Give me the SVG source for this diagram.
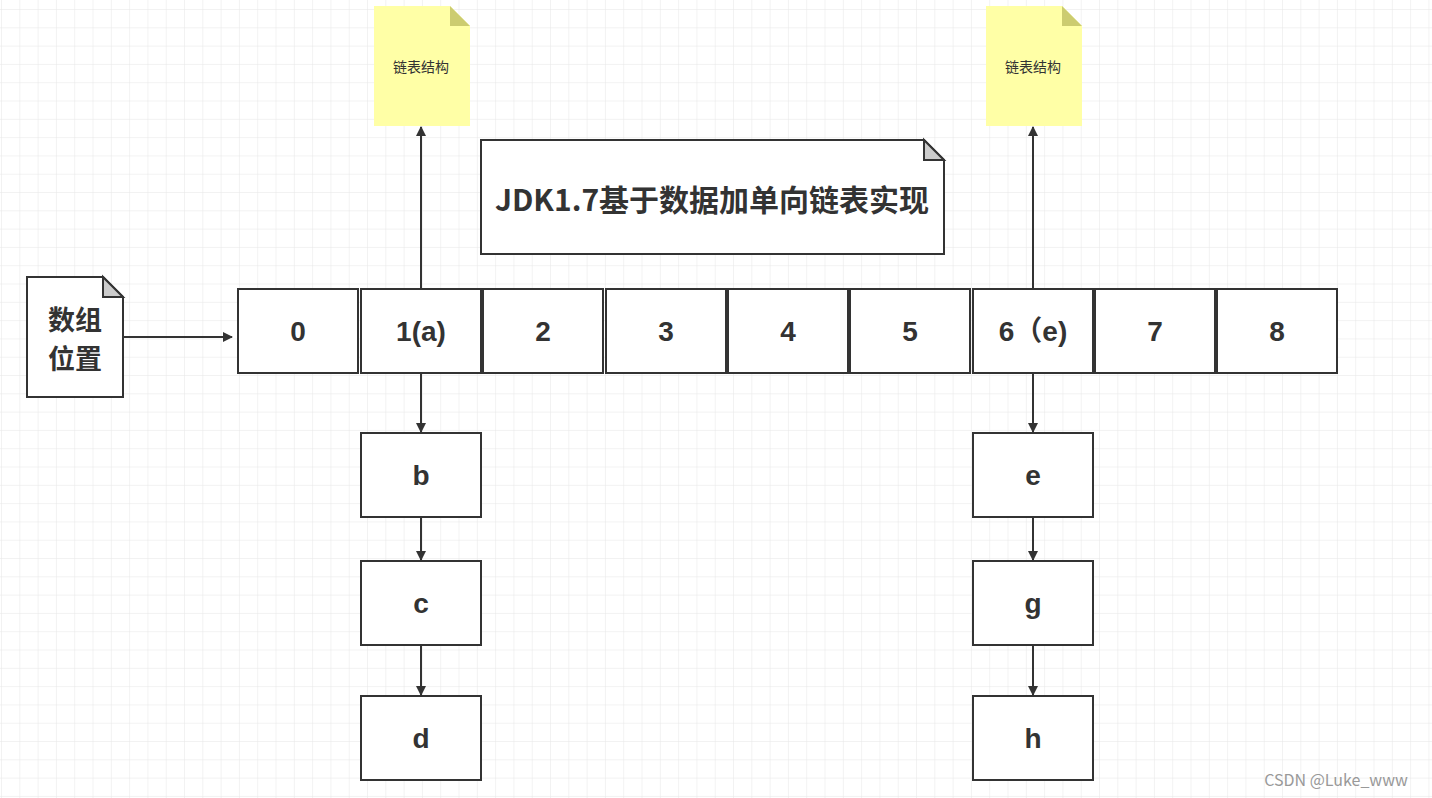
<svg xmlns="http://www.w3.org/2000/svg" width="1432" height="798" viewBox="0 0 1432 798">
<defs>
<pattern id="grid" width="18.3" height="18.3" patternUnits="userSpaceOnUse" x="2" y="10">
<path d="M18.3 0V18.3H0" fill="none" stroke="#e6e6e6" stroke-width="1"/>
</pattern>
<marker id="arr" viewBox="0 0 10 10" refX="9" refY="5" markerWidth="10" markerHeight="10" markerUnits="userSpaceOnUse" orient="auto"><path d="M0 0L10 5L0 10z" fill="#333"/></marker>
<style>
.box{fill:#fff;stroke:#333;stroke-width:2}
.t{font-family:"Liberation Sans","Noto Sans CJK SC",sans-serif;font-weight:bold;font-size:28px;fill:#333;text-anchor:middle;dominant-baseline:central}
.c{font-family:"Noto Sans CJK SC",sans-serif;font-weight:bold;fill:#333;text-anchor:middle;dominant-baseline:central}
.s{font-family:"Noto Sans CJK SC",sans-serif;font-size:14px;fill:#333;text-anchor:middle;dominant-baseline:central}
.ln{stroke:#333;stroke-width:2;fill:none;marker-end:url(#arr)}
</style>
</defs>
<rect width="1432" height="798" fill="#fff"/>
<rect width="1432" height="798" fill="url(#grid)"/>
<g id="note-array">
<path d="M27 277H103L123 297V397H27Z" class="box"/>
<path d="M103 277V297H123Z" fill="#ccc" stroke="#333" stroke-width="2"/>
<text class="c" x="75" y="318" font-size="27">数组</text>
<text class="c" x="75" y="357" font-size="27">位置</text>
</g>
<g id="title">
<path d="M481 140H924L944 160V254H481Z" class="box"/>
<path d="M924 140V160H944Z" fill="#ccc" stroke="#333" stroke-width="2"/>
<text class="c" x="712" y="198" font-size="30">JDK1.7基于数据加单向链表实现</text>
</g>
<g id="sticky1">
<path d="M374 6H450L470 26V126H374Z" fill="#ffffa6"/>
<path d="M450 6L470 26H450Z" fill="#cccc70"/>
<text class="s" x="421" y="66">链表结构</text>
</g>
<g id="sticky2">
<path d="M986 6H1062L1082 26V126H986Z" fill="#ffffa6"/>
<path d="M1062 6L1082 26H1062Z" fill="#cccc70"/>
<text class="s" x="1033" y="66">链表结构</text>
</g>
<g id="cells">
<g id="c0"><rect class="box" x="238" y="289" width="120" height="84"/><text class="t" x="298" y="331">0</text></g>
<g id="c1"><rect class="box" x="361" y="289" width="120" height="84"/><text class="t" x="421" y="331">1(a)</text></g>
<g id="c2"><rect class="box" x="483" y="289" width="120" height="84"/><text class="t" x="543" y="331">2</text></g>
<g id="c3"><rect class="box" x="606" y="289" width="120" height="84"/><text class="t" x="666" y="331">3</text></g>
<g id="c4"><rect class="box" x="728" y="289" width="120" height="84"/><text class="t" x="788" y="331">4</text></g>
<g id="c5"><rect class="box" x="850" y="289" width="120" height="84"/><text class="t" x="910" y="331">5</text></g>
<g id="c6"><rect class="box" x="973" y="289" width="120" height="84"/><text class="t" x="1033" y="331">6（e)</text></g>
<g id="c7"><rect class="box" x="1095" y="289" width="120" height="84"/><text class="t" x="1155" y="331">7</text></g>
<g id="c8"><rect class="box" x="1217" y="289" width="120" height="84"/><text class="t" x="1277" y="331">8</text></g>
</g>
<g id="nb"><rect class="box" x="361" y="433" width="120" height="84"/><text class="t" x="421" y="475">b</text></g>
<g id="nc"><rect class="box" x="361" y="561" width="120" height="84"/><text class="t" x="421" y="603">c</text></g>
<g id="nd"><rect class="box" x="361" y="696" width="120" height="84"/><text class="t" x="421" y="738">d</text></g>
<g id="ne"><rect class="box" x="973" y="433" width="120" height="84"/><text class="t" x="1033" y="475">e</text></g>
<g id="ng"><rect class="box" x="973" y="561" width="120" height="84"/><text class="t" x="1033" y="603">g</text></g>
<g id="nh"><rect class="box" x="973" y="696" width="120" height="84"/><text class="t" x="1033" y="738">h</text></g>
<g id="connectors">
<path class="ln" d="M123 337H232"/>
<path class="ln" d="M421 289V127"/>
<path class="ln" d="M1033 289V127"/>
<path class="ln" d="M421 373V432"/>
<path class="ln" d="M421 517V560"/>
<path class="ln" d="M421 645V695"/>
<path class="ln" d="M1033 373V432"/>
<path class="ln" d="M1033 517V560"/>
<path class="ln" d="M1033 645V695"/>
</g>
<text x="1336" y="786" font-family="Noto Sans CJK SC,sans-serif" font-size="16" fill="#999" text-anchor="middle">CSDN @Luke_www</text>
</svg>
